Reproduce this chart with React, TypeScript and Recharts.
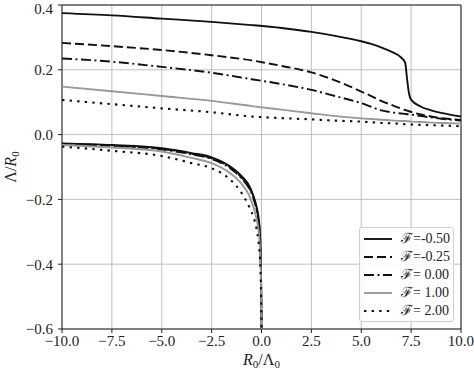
import { CartesianGrid, Line, LineChart, ReferenceArea, XAxis, YAxis } from "recharts";

// upper branch sample positions (R0/Λ0)
const xUpper = [-10, -7.5, -5, -2.5, -0.5, 1, 2.5, 3.75, 5, 5.5, 6, 6.5, 7, 7.2, 7.3, 7.4, 7.5, 8, 8.5, 9, 9.5, 10];
// lower branch sample positions
const xLower = [-10, -7.5, -5, -3.5, -2.5, -1.6, -1, -0.6, -0.4, -0.25, -0.15, -0.1, -0.05, -0.02, 0];

const upperM050 = [0.375, 0.368, 0.358, 0.348, 0.338, 0.329, 0.317, 0.304, 0.288, 0.28, 0.269, 0.256, 0.238, 0.222, 0.17, 0.125, 0.108, 0.086, 0.075, 0.067, 0.061, 0.056];
const upperM025 = [0.283, 0.273, 0.261, 0.245, 0.229, 0.212, 0.192, 0.166, 0.133, 0.119, 0.104, 0.092, 0.08, 0.076, 0.074, 0.072, 0.07, 0.062, 0.056, 0.051, 0.048, 0.045];
const upperP000 = [0.235, 0.225, 0.209, 0.191, 0.171, 0.156, 0.138, 0.118, 0.097, 0.086, 0.075, 0.069, 0.065, 0.064, 0.063, 0.063, 0.062, 0.057, 0.053, 0.049, 0.046, 0.043];
const upperP100 = [0.148, 0.134, 0.119, 0.104, 0.088, 0.077, 0.066, 0.057, 0.05, 0.048, 0.046, 0.044, 0.042, 0.042, 0.041, 0.041, 0.04, 0.039, 0.037, 0.036, 0.035, 0.034];
const upperP200 = [0.107, 0.094, 0.081, 0.069, 0.056, 0.051, 0.047, 0.043, 0.04, 0.038, 0.036, 0.035, 0.033, 0.032, 0.032, 0.031, 0.031, 0.03, 0.029, 0.028, 0.027, 0.026];

const lowerM050 = [-0.027, -0.032, -0.042, -0.057, -0.07, -0.097, -0.128, -0.16, -0.19, -0.222, -0.255, -0.285, -0.35, -0.45, -0.6];
const lowerM025 = [-0.029, -0.034, -0.044, -0.059, -0.073, -0.1, -0.132, -0.165, -0.194, -0.228, -0.262, -0.291, -0.358, -0.458, -0.6];
const lowerP000 = [-0.03, -0.035, -0.046, -0.061, -0.075, -0.103, -0.135, -0.168, -0.197, -0.232, -0.266, -0.295, -0.365, -0.465, -0.6];
const lowerP100 = [-0.032, -0.04, -0.052, -0.072, -0.088, -0.118, -0.152, -0.19, -0.225, -0.26, -0.295, -0.325, -0.39, -0.48, -0.6];
const lowerP200 = [-0.037, -0.05, -0.066, -0.088, -0.104, -0.137, -0.18, -0.225, -0.255, -0.29, -0.33, -0.36, -0.42, -0.5, -0.6];

const xTicks = [-10, -7.5, -5, -2.5, 0, 2.5, 5, 7.5, 10];
const yTicks = [-0.6, -0.4, -0.2, 0, 0.2, 0.4];
const legendLabels = ["ℱ=-0.50", "ℱ=-0.25", "ℱ= 0.00", "ℱ= 1.00", "ℱ= 2.00"];

const serif = "'Liberation Serif', 'DejaVu Serif', serif";

function rows(upper: number[], lower: number[]) {
  return [
    ...xUpper.map((x, i) => ({ x, y: upper[i] as number | null })),
    { x: 10, y: null },
    ...xLower.map((x, i) => ({ x, y: lower[i] as number | null })),
  ];
}

const series = [
  { key: "m050", data: rows(upperM050, lowerM050), stroke: "#111", dash: undefined, width: 1.9 },
  { key: "m025", data: rows(upperM025, lowerM025), stroke: "#111", dash: "9 4", width: 1.9 },
  { key: "p000", data: rows(upperP000, lowerP000), stroke: "#111", dash: "10 3.5 2 3.5", width: 1.9 },
  { key: "p100", data: rows(upperP100, lowerP100), stroke: "#999", dash: undefined, width: 1.9 },
  { key: "p200", data: rows(upperP200, lowerP200), stroke: "#111", dash: "2.4 5.2", width: 2.1 },
];

const fmt = (v: number) => (v < 0 ? "\u2212" : "") + Math.abs(v).toFixed(1);

function XLabel(props: any) {
  const vb = props.viewBox || { x: 62, y: 329, width: 399 };
  const cx = vb.x + vb.width / 2;
  return (
    <text x={cx} y={vb.y + 36} textAnchor="middle" fontFamily={serif} fontSize={16} fill="#222">
      <tspan fontStyle="italic">R</tspan>
      <tspan fontSize={11} dy={3}>0</tspan>
      <tspan dy={-3}>/Λ</tspan>
      <tspan fontSize={11} dy={3}>0</tspan>
    </text>
  );
}

function YLabel(props: any) {
  const vb = props.viewBox || { x: 0, y: 5, height: 324 };
  const cy = vb.y + vb.height / 2;
  const x = 16;
  return (
    <text x={x} y={cy} transform={`rotate(-90 ${x} ${cy})`} textAnchor="middle" fontFamily={serif} fontSize={16} fill="#222">
      <tspan>Λ/</tspan>
      <tspan fontStyle="italic">R</tspan>
      <tspan fontSize={11} dy={3}>0</tspan>
    </text>
  );
}

export default function App() {
  return (
    <div style={{ position: "absolute", left: 0, top: 0, width: 474, height: 370, background: "#fff" }}>
      <LineChart width={474} height={370} margin={{ top: 5, right: 13, left: 0, bottom: 0 }}>
        <CartesianGrid stroke="#b0b0b0" strokeWidth={0.8} />
        <XAxis
          type="number"
          dataKey="x"
          domain={[-10, 10]}
          ticks={xTicks}
          tickFormatter={fmt}
          height={41}
          axisLine={false}
          tickLine={{ stroke: "#222" }}
          tickSize={4}
          tickMargin={2}
          tick={{ fontFamily: serif, fontSize: 15, fill: "#222" }}
          label={<XLabel />}
          allowDataOverflow
        />
        <YAxis
          type="number"
          domain={[-0.6, 0.4]}
          ticks={yTicks}
          tickFormatter={fmt}
          width={62}
          axisLine={false}
          tickLine={{ stroke: "#222" }}
          tickSize={4}
          tickMargin={5}
          tick={{ fontFamily: serif, fontSize: 15, fill: "#222" }}
          label={<YLabel />}
          allowDataOverflow
        />
        {series.map((s) => (
          <Line
            key={s.key}
            data={s.data}
            dataKey="y"
            type="monotone"
            stroke={s.stroke}
            strokeWidth={s.width}
            strokeDasharray={s.dash}
            dot={false}
            activeDot={false}
            connectNulls={false}
            isAnimationActive={false}
          />
        ))}
        <ReferenceArea x1={-10} x2={10} y1={-0.6} y2={0.4} fill="none" fillOpacity={0} stroke="#222" strokeWidth={1} ifOverflow="visible" />
      </LineChart>
      <div
        style={{
          position: "absolute",
          left: 359,
          top: 227,
          width: 95,
          height: 95,
          boxSizing: "border-box",
          border: "1px solid #d0d0d0",
          borderRadius: 3,
          background: "rgba(255,255,255,0.85)",
          fontFamily: serif,
          fontSize: 14,
          color: "#222",
        }}
      >
        {series.map((s, i) => (
          <div key={s.key} style={{ position: "absolute", left: 0, top: 2 + i * 18, height: 18, width: 95 }}>
            <svg width={30} height={18} style={{ position: "absolute", left: 3, top: 0 }}>
              <line x1={1} y1={9} x2={29} y2={9} stroke={s.stroke} strokeWidth={s.width} strokeDasharray={s.dash} />
            </svg>
            <span style={{ position: "absolute", left: 41, top: 0, lineHeight: "18px", whiteSpace: "pre" }}>{legendLabels[i]}</span>
          </div>
        ))}
      </div>
    </div>
  );
}
